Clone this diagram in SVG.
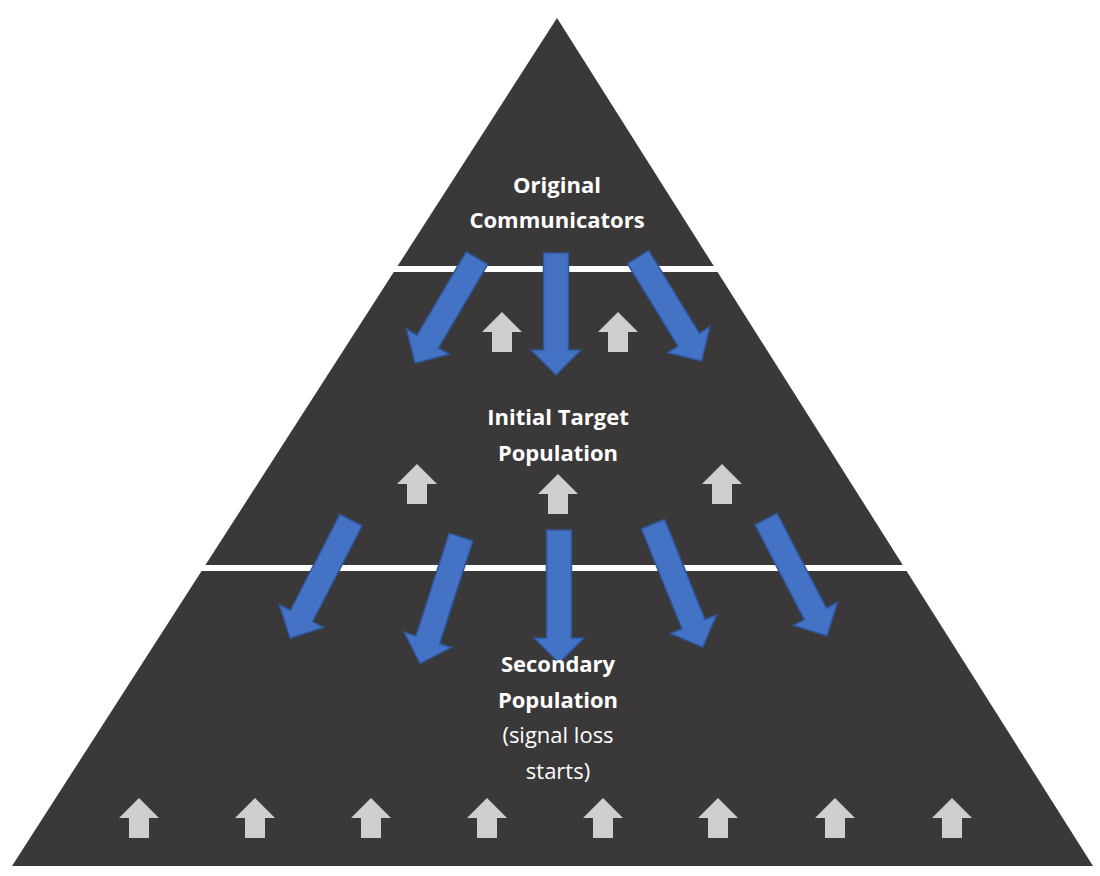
<svg xmlns="http://www.w3.org/2000/svg" width="1100" height="876" viewBox="0 0 1100 876">
<style>
.b{fill:#4472C4;stroke:#2F5597;stroke-width:1.5}
.g{fill:#D0CECE}
.t{font-family:"Open Sans","Liberation Sans",sans-serif;font-size:22px;fill:#fff;text-anchor:middle}
.bo{font-weight:bold}
</style>
<defs>
<path id="ga" d="M-10,40 V20 H-20 L0,0 L20,20 H10 V40 Z"/>
</defs>
<g id="pyramid">
<polygon points="557,18 1093,866 12,866" fill="#3A3839"/>
<rect x="0" y="266" width="1100" height="6" fill="#fff"/>
<rect x="0" y="565" width="1100" height="6" fill="#fff"/>
</g>
<g id="up-arrows" class="g">
<use href="#ga" x="502" y="312"/><use href="#ga" x="618" y="312"/>
<use href="#ga" x="417" y="464"/><use href="#ga" x="558" y="474"/><use href="#ga" x="722" y="464"/>
<use href="#ga" x="139" y="798"/><use href="#ga" x="255" y="798"/><use href="#ga" x="371" y="798"/><use href="#ga" x="487" y="798"/>
<use href="#ga" x="603" y="798"/><use href="#ga" x="718" y="798"/><use href="#ga" x="835" y="798"/><use href="#ga" x="952" y="798"/>
</g>
<g id="connectors">
<path class="b" transform="translate(477,258) rotate(30.5)" d="M-12.5,0 H12.5 V97 H25 L0,122 L-25,97 H-12.5 Z"/>
<path class="b" transform="translate(556,253)" d="M-12.5,0 H12.5 V97 H25 L0,122 L-25,97 H-12.5 Z"/>
<path class="b" transform="translate(638,257) rotate(-31.5)" d="M-12.5,0 H12.5 V97 H25 L0,122 L-25,97 H-12.5 Z"/>
<path class="b" transform="translate(351,520) rotate(27.3)" d="M-12.5,0 H12.5 V108 H25 L0,133 L-25,108 H-12.5 Z"/>
<path class="b" transform="translate(461,537) rotate(17.9)" d="M-12.5,0 H12.5 V108 H25 L0,133 L-25,108 H-12.5 Z"/>
<path class="b" transform="translate(559,530)" d="M-12.5,0 H12.5 V108 H25 L0,133 L-25,108 H-12.5 Z"/>
<path class="b" transform="translate(653,524) rotate(-22)" d="M-12.5,0 H12.5 V108 H25 L0,133 L-25,108 H-12.5 Z"/>
<path class="b" transform="translate(766,519) rotate(-27.5)" d="M-12.5,0 H12.5 V107 H25 L0,132 L-25,107 H-12.5 Z"/>
</g>
<g id="original"><text class="t bo" x="557" y="193">Original</text><text class="t bo" x="557" y="228">Communicators</text></g>
<g id="initial"><text class="t bo" x="558" y="425">Initial Target</text><text class="t bo" x="558" y="461">Population</text></g>
<g id="secondary"><text class="t bo" x="558" y="672">Secondary</text><text class="t bo" x="558" y="708">Population</text>
<text class="t" x="558" y="743">(signal loss</text><text class="t" x="558" y="779">starts)</text></g>
</svg>
